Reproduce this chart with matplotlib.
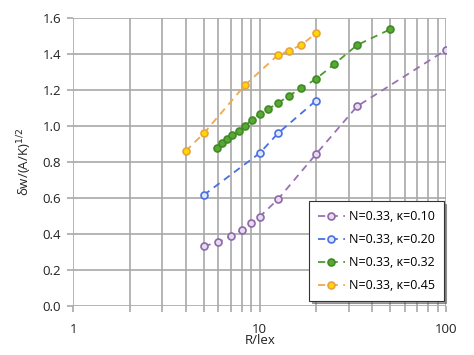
import matplotlib
matplotlib.use("Agg")
from matplotlib import pyplot as plt
from matplotlib.ticker import LogLocator, NullFormatter, FixedLocator, FuncFormatter

# values
x_k010 = [5.0, 6.0, 7.0, 8.0, 9.0, 10.0, 12.5, 20.0, 33.3, 100.0]
y_k010 = [0.332, 0.356, 0.388, 0.424, 0.460, 0.497, 0.593, 0.844, 1.111, 1.425]

x_k020 = [5.0, 10.0, 12.5, 20.0]
y_k020 = [0.617, 0.851, 0.960, 1.142]

x_k032 = [5.88, 6.25, 6.67, 7.14, 7.69, 8.33, 9.09, 10.0, 11.1, 12.5,
          14.3, 16.7, 20.0, 25.0, 33.3, 50.0]
y_k032 = [0.880, 0.905, 0.927, 0.949, 0.975, 1.003, 1.036, 1.070, 1.097, 1.127,
          1.170, 1.211, 1.263, 1.344, 1.452, 1.539]

x_k045 = [4.0, 5.0, 8.33, 12.5, 14.3, 16.7, 20.0]
y_k045 = [0.862, 0.960, 1.229, 1.396, 1.420, 1.452, 1.517]

labels = ["N=0.33, κ=0.10", "N=0.33, κ=0.20", "N=0.33, κ=0.32", "N=0.33, κ=0.45"]
y_ticks = [0.0, 0.2, 0.4, 0.6, 0.8, 1.0, 1.2, 1.4, 1.6]

plt.rcParams["font.family"] = ["Open Sans", "DejaVu Sans"]

fig = plt.figure(figsize=(4.74, 3.55), dpi=100)
ax = fig.add_axes([0.155, 0.138, 0.786, 0.810])

styles = [
    (x_k010, y_k010, "#8e68a8", "#e6dcef", "#9a72b4"),
    (x_k020, y_k020, "#4a6fe3", "#dfe7ff", "#4a6fe3"),
    (x_k032, y_k032, "#3f8a26", "#5aa832", "#4e9a2e"),
    (x_k045, y_k045, "#e8a23a", "#ffd800", "#f0a848"),
]
for (xs, ys, edge, face, line), lab in zip(styles, labels):
    ax.plot(xs, ys, linestyle=(0, (4, 3)), color=line, lw=1.3,
            marker="o", markersize=5, markerfacecolor=face,
            markeredgecolor=edge, markeredgewidth=1.2, label=lab, zorder=3)

ax.set_xscale("log")
ax.set_xlim(1, 100)
ax.set_ylim(0, 1.6)
ax.yaxis.set_major_locator(FixedLocator(y_ticks))
ax.set_yticklabels([f"{v:.1f}" for v in y_ticks])
ax.xaxis.set_major_locator(LogLocator(base=10))
ax.xaxis.set_minor_locator(LogLocator(base=10, subs=range(2, 10)))
ax.xaxis.set_minor_formatter(NullFormatter())
ax.xaxis.set_major_formatter(FuncFormatter(lambda v, p: f"{v:g}"))

ax.grid(True, which="both", axis="x", color="#a8a8a8", lw=1.2)
ax.grid(True, which="major", axis="y", color="#a8a8a8", lw=1.2)
ax.set_axisbelow(True)
for side in ["top", "right", "left", "bottom"]:
    ax.spines[side].set_visible(False)
ax.tick_params(axis="both", which="both", color="#a8a8a8", width=1.2,
               labelsize=9.5, labelcolor="#222222")
ax.tick_params(axis="x", which="both", length=4, pad=8)
ax.tick_params(axis="y", length=4, pad=5)

ax.set_xlabel("R/lex", fontsize=9.5, color="#222222", labelpad=-1)
ax.set_ylabel(r"δw/(A/K)$^{1/2}$", fontsize=9.5, color="#222222", labelpad=6)

leg = ax.legend(loc="lower right", bbox_to_anchor=(1.0, 0.01), fontsize=9,
                frameon=True, fancybox=False, shadow=True, handlelength=2.2,
                labelspacing=0.8, borderpad=0.7, handletextpad=0.3,
                borderaxespad=0.2)
leg.get_frame().set_edgecolor("#333333")
leg.get_frame().set_linewidth(0.8)
leg.set_zorder(5)

plt.savefig("out.png", dpi=100)
